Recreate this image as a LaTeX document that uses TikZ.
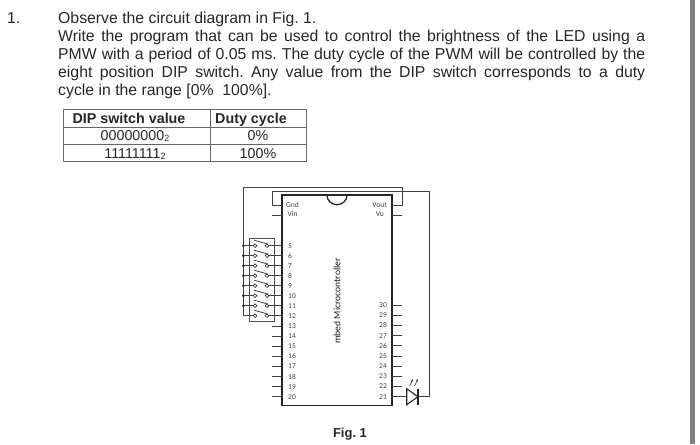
\documentclass[tikz,border=0pt]{standalone}
\usepackage{fontspec}
\usetikzlibrary{arrows.meta}
\setmainfont{Liberation Sans}
\newfontfamily\calib{Carlito}
\begin{document}
\frenchspacing
\begin{tikzpicture}[x=1pt,y=-1pt,
  wire/.style={line width=0.8pt,draw=black!75},
  chipbox/.style={draw=black!85,line width=1.4pt,minimum width=110pt,minimum height=210.5pt,inner sep=0pt},
  dipbox/.style={draw=black!70,line width=0.8pt,minimum width=24.7pt,minimum height=83pt,inner sep=0pt},
  body/.style={anchor=base west,inner sep=0pt,font=\fontsize{15.8}{18}\selectfont,text=black!85},
  cell/.style={inner sep=0pt,anchor=base,font=\fontsize{14.3}{17}\selectfont,text=black!85},
  tline/.style={draw=black!60,line width=1pt},
  pinl/.style={inner sep=0pt,anchor=base west,font=\calib\fontsize{7.5}{8}\selectfont,text=black!75},
  pinr/.style={inner sep=0pt,anchor=base east,font=\calib\fontsize{7.5}{8}\selectfont,text=black!75},
  contact/.style={circle,draw=black!80,fill=white,line width=0.7pt,inner sep=0pt,minimum size=3.6pt},
  junction/.style={circle,fill=black!85,inner sep=0pt,minimum size=3pt},
  ledtri/.style={draw=black!85,line width=1.1pt,fill=white},
  ray/.style={draw=black!70,line width=0.7pt,-{Stealth[length=2.8pt,width=2.4pt]}}]
\useasboundingbox (0,0) rectangle (700,444);
\fill[black!50] (690,0) rectangle (695,444);
% question text
\node[body] (num) at (7,23.5) {1.};
\node[body] (t1) at (58,23.5) {Observe the circuit diagram in Fig. 1.};
\node[body,text width=587pt,align=justify,anchor=north west] (t2) at (58,30) {\fontsize{15.8}{18.2}\selectfont\frenchspacing Write the program that can be used to control the brightness of the LED using a\linebreak PMW with a period of 0.05 ms. The duty cycle of the PWM will be controlled by the\linebreak eight position DIP switch. Any value from the DIP switch corresponds to a duty\linebreak cycle in the range [0\%\ \ 100\%].};
% table
\draw[tline] (63.5,109) rectangle (306.5,161);
\draw[tline] (63.5,127) -- (306.5,127) (63.5,144) -- (306.5,144) (210,109) -- (210,161);
\node[cell] (h1) at (129,123) {\textbf{DIP switch value}};
\node[cell] (h2) at (251,123) {\textbf{Duty cycle}};
\node[cell] (a1) at (135,140) {00000000\raisebox{-1.5pt}{\fontsize{9}{10}\selectfont 2}};
\node[cell] (a2) at (258,140) {0\%};
\node[cell] (b1) at (135,158) {11111111\raisebox{-1.5pt}{\fontsize{9}{10}\selectfont 2}};
\node[cell] (b2) at (258,158) {100\%};
% chip
\node[chipbox] (chip) at (337,300.4) {};
\draw[draw=black!85,line width=1.3pt] (327,195.2) arc[start angle=180,end angle=360,x radius=10pt,y radius=9.5pt];
\node[rotate=90,inner sep=0pt,font=\calib\fontsize{9.6}{11}\selectfont,text=black!90] (lab) at (337,301) {mbed Microcontroller};
\node[pinl] (gnd) at (286,207.5) {Gnd};
\node[pinl] (vin) at (287.5,216.8) {Vin};
\node[pinr] (vout) at (387,207.5) {Vout};
\node[pinr] (vu) at (384,216.8) {Vu};
% left pins
\foreach \n [evaluate=\n as \yy using {245.7+(\n-5)*10.07}] in {5,...,20}{
  \coordinate (L\n) at (282,\yy);
  \node[pinl] (nl\n) at (288,\yy+2.4) {\n};
}
\foreach \n in {13,...,20}{ \draw[wire] (L\n) -- ++(-10,0); }
% right pins
\foreach \n [evaluate=\n as \yy using {396.7-(\n-21)*10.17}] in {21,...,30}{
  \coordinate (R\n) at (392,\yy);
  \node[pinr] (nr\n) at (387,\yy+2.4) {\n};
}
\foreach \n in {22,...,30}{ \draw[wire] (R\n) -- ++(10,0); }
% Gnd, Vin, Vout, Vu
\coordinate (Gp) at (282,205);
\coordinate (Vp) at (282,215);
\coordinate (Op) at (392,205);
\coordinate (Up) at (392,215);
\draw[wire] (Vp) -- ++(-10,0);
\draw[wire] (Up) -- ++(10,0);
% DIP switch
\node[dipbox] (dip) at (261.6,280.2) {};
\coordinate (busTop) at (243.3,187.3);
\draw[wire] (Op) -- (402,205) -- (402,187.3) -- (busTop) -- (243.3,315.7) -- (255,315.7);
\foreach \n [evaluate=\n as \yy using {245.7+(\n-5)*10}] in {5,...,12}{
  \node[contact] (ca\n) at (255,\yy) {};
  \node[contact] (cb\n) at (267,\yy) {};
  \draw[wire] (ca\n) -- (243.3,\yy);
  \draw[wire] (cb\n) -- (282,\yy);
  \draw[wire] ([shift={(-1,-5.5)}]ca\n.center) -- ([shift={(1,-1.6)}]cb\n.center);
}
\foreach \n [evaluate=\n as \yy using {245.7+(\n-5)*10}] in {5,...,11}{
  \node[junction] (j\n) at (243.3,\yy) {};
}
% LED
\coordinate (ledA) at (406.7,396.7);
\coordinate (ledK) at (418,396.7);
\draw[ledtri] (406.7,388.7) -- (ledK) -- (406.7,404.7) -- cycle;
\draw[draw=black!85,line width=1.3pt] (418,388.5) -- (418,405);
\draw[wire] (R21) -- (ledA);
\draw[wire] (Gp) -- (272,205) -- (272,191) -- (429.3,191) -- (429.3,396.7) -- (ledK);
\coordinate (r1a) at (409.5,386); \coordinate (r1b) at (413,379);
\coordinate (r2a) at (414.5,386); \coordinate (r2b) at (418,379);
\draw[ray] (r1a) -- (r1b);
\draw[ray] (r2a) -- (r2b);
% caption
\node[inner sep=0pt,anchor=base,font=\fontsize{13}{15}\selectfont\bfseries,text=black!85] (fig) at (350,437) {Fig. 1};
\end{tikzpicture}
\end{document}
